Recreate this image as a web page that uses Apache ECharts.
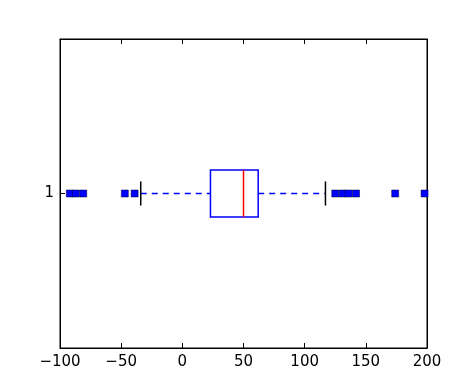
<!DOCTYPE html>
<html>
<head>
<meta charset="utf-8">
<script src="https://cdn.jsdelivr.net/npm/echarts@6/dist/echarts.min.js"></script>
<style>html,body{margin:0;padding:0;background:#fff}#c{width:474px;height:387px}</style>
</head>
<body>
<div id="c"></div>
<script>
const categories = ['1'];
const whiskerLow = [-34];
const q1 = [23];
const median = [50];
const q3 = [62];
const whiskerHigh = [117];
const outliers = [-92, -87, -81, -47, -39, 125, 131, 136, 142, 174, 198];
const xTicks = [-100, -50, 0, 50, 100, 150, 200];

const boxData = categories.map((c, i) => [whiskerLow[i], q1[i], median[i], q3[i], whiskerHigh[i], i]);
const outlierData = outliers.map(v => [v, 0]);

const chart = echarts.init(document.getElementById('c'), null, {renderer: 'canvas'});
const font = 'DejaVu Sans';
const fmt = v => String(v).replace('-', '\u2212');

function renderBox(params, api) {
  const idx = api.value(5);
  const band = api.size([0, 1])[1];
  const hb = band * 0.076;
  const hc = band * 0.039;
  const pLow = api.coord([api.value(0), idx]);
  const pQ1 = api.coord([api.value(1), idx]);
  const pMed = api.coord([api.value(2), idx]);
  const pQ3 = api.coord([api.value(3), idx]);
  const pHigh = api.coord([api.value(4), idx]);
  const y = pQ1[1];
  const blue = '#0000ff';
  return {
    type: 'group',
    children: [
      {type: 'line', shape: {x1: pLow[0], y1: y, x2: pQ1[0], y2: y}, style: {stroke: blue, lineWidth: 1.5, lineDash: [6, 5]}},
      {type: 'line', shape: {x1: pQ3[0], y1: y, x2: pHigh[0], y2: y}, style: {stroke: blue, lineWidth: 1.5, lineDash: [6, 5]}},
      {type: 'line', shape: {x1: pLow[0], y1: y - hc, x2: pLow[0], y2: y + hc}, style: {stroke: '#000', lineWidth: 1.5}},
      {type: 'line', shape: {x1: pHigh[0], y1: y - hc, x2: pHigh[0], y2: y + hc}, style: {stroke: '#000', lineWidth: 1.5}},
      {type: 'rect', shape: {x: pQ1[0], y: y - hb, width: pQ3[0] - pQ1[0], height: 2 * hb}, style: {fill: 'none', stroke: blue, lineWidth: 1.5}},
      {type: 'line', shape: {x1: pMed[0], y1: y - hb, x2: pMed[0], y2: y + hb}, style: {stroke: '#ff0000', lineWidth: 1.5}}
    ]
  };
}

const axisLineStyle = {show: true, onZero: false, lineStyle: {color: '#000', width: 1}};

const option = {
  animation: false,
  backgroundColor: '#fff',
  grid: {left: 60, right: 47, top: 39, bottom: 39, show: true, borderColor: '#000', borderWidth: 1, backgroundColor: 'transparent'},
  xAxis: [
    {type: 'value', min: -100, max: 200, interval: 50, position: 'bottom',
     axisLine: axisLineStyle,
     axisTick: {show: true, inside: true, length: 5, lineStyle: {color: '#000'}},
     axisLabel: {color: '#000', fontFamily: font, fontSize: 15, margin: 7, formatter: v => xTicks.includes(v) ? fmt(v) : ''},
     splitLine: {show: false}},
    {type: 'value', min: -100, max: 200, interval: 50, position: 'top',
     axisLine: axisLineStyle,
     axisTick: {show: true, inside: true, length: 5, lineStyle: {color: '#000'}},
     axisLabel: {show: false}, splitLine: {show: false}}
  ],
  yAxis: [
    {type: 'category', data: categories, position: 'left',
     axisLine: axisLineStyle,
     axisTick: {show: true, inside: true, length: 5, alignWithLabel: true, lineStyle: {color: '#000'}},
     axisLabel: {color: '#000', fontFamily: font, fontSize: 15, margin: 6},
     splitLine: {show: false}},
    {type: 'category', data: categories, position: 'right',
     axisLine: axisLineStyle,
     axisTick: {show: true, inside: true, length: 5, alignWithLabel: true, lineStyle: {color: '#000'}},
     axisLabel: {show: false}, splitLine: {show: false}}
  ],
  series: [
    {type: 'custom', xAxisIndex: 0, yAxisIndex: 0, renderItem: renderBox, data: boxData,
     encode: {x: [0, 1, 2, 3, 4], y: 5}, clip: true, z: 2},
    {type: 'scatter', xAxisIndex: 0, yAxisIndex: 0, data: outlierData, symbol: 'rect', symbolSize: 7,
     itemStyle: {color: '#0000ff', borderColor: '#000033', borderWidth: 0.5, opacity: 1}, clip: true, z: 3}
  ]
};
chart.setOption(option);
</script>
</body>
</html>
